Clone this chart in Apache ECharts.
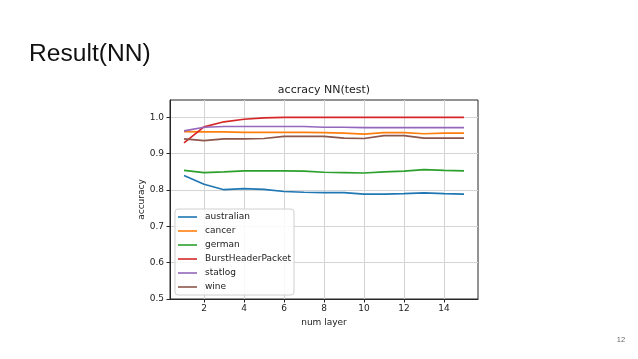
<!DOCTYPE html>
<html>
<head>
<meta charset="utf-8">
<script src="https://cdn.jsdelivr.net/npm/echarts@6/dist/echarts.min.js"></script>
<style>
html,body{margin:0;padding:0;background:#fff;}
#c{width:638px;height:359px;}
</style>
</head>
<body>
<div id="c"></div>
<script>
// ---- data ----
var layers = [1,2,3,4,5,6,7,8,9,10,11,12,13,14,15];
var australian = [0.840,0.816,0.801,0.804,0.802,0.796,0.794,0.793,0.793,0.789,0.789,0.790,0.792,0.790,0.789];
var cancer     = [0.961,0.960,0.960,0.959,0.959,0.959,0.959,0.958,0.957,0.954,0.958,0.958,0.955,0.957,0.957];
var german     = [0.854,0.848,0.850,0.853,0.853,0.853,0.852,0.849,0.848,0.847,0.850,0.852,0.856,0.854,0.853];
var burst      = [0.930,0.974,0.988,0.995,0.999,1.000,1.000,1.000,1.000,1.000,1.000,1.000,1.000,1.000,1.000];
var statlog    = [0.963,0.973,0.975,0.975,0.975,0.975,0.975,0.973,0.973,0.972,0.972,0.972,0.972,0.972,0.972];
var wine       = [0.941,0.936,0.941,0.941,0.942,0.948,0.948,0.948,0.943,0.942,0.950,0.950,0.943,0.943,0.943];
var seriesNames = ['australian','cancer','german','BurstHeaderPacket','statlog','wine'];
var xTicks = [2,4,6,8,10,12,14];
var yTicks = [0.5,0.6,0.7,0.8,0.9,1.0];
var slideTitle = 'Result(NN)';
var chartTitle = 'accracy NN(test)';
var pageNumber = '12';

var colors = ['#1f77b4','#ff7f0e','#2ca02c','#d62728','#9467bd','#8c564b'];
var values = [australian, cancer, german, burst, statlog, wine];

function pairs(arr){ return layers.map(function(x,i){ return [x, arr[i]]; }); }

var chart = echarts.init(document.getElementById('c'), null, {renderer:'canvas'});
var font = 'DejaVu Sans';
chart.setOption({
  backgroundColor: '#fff',
  animation: false,
  color: colors,
  grid: {left:170, top:100, right:160, bottom:60, show:true, borderColor:'#262626', borderWidth:1, backgroundColor:'#fff', containLabel:false},
  graphic: [
    {type:'text', left:null, x:29, y:54, style:{text:slideTitle, font:'24.6px "Liberation Sans", Arial, sans-serif', fill:'#111', verticalAlign:'middle', align:'left'}},
    {type:'text', x:324, y:90, style:{text:chartTitle, font:'11px "DejaVu Sans"', fill:'#222', verticalAlign:'middle', align:'center'}},
    {type:'text', x:621, y:340, style:{text:pageNumber, font:'7.5px "Liberation Sans", Arial, sans-serif', fill:'#666', verticalAlign:'middle', align:'center'}}
  ],
  legend: {
    data: seriesNames,
    orient: 'vertical',
    left: 175, top: 209,
    padding: [2,3,2,3],
    itemGap: 2,
    itemWidth: 19, itemHeight: 1.6,
    icon: 'rect',
    backgroundColor: 'rgba(255,255,255,0.85)',
    borderColor: '#d0d0d0', borderWidth: 1, borderRadius: 3,
    textStyle: {fontFamily:font, fontSize:9, color:'#222', lineHeight:12, padding:[0,0,0,3]}
  },
  xAxis: {
    type:'value', min:0.3, max:15.7,
    name:'num layer', nameLocation:'middle', nameGap:18,
    nameTextStyle:{fontFamily:font, fontSize:9, color:'#222'},
    axisLine:{show:true, onZero:false, lineStyle:{color:'#262626', width:1}},
    axisTick:{show:true, inside:false, length:3.5, customValues:xTicks, lineStyle:{color:'#262626'}},
    axisLabel:{customValues:xTicks, margin:5, fontFamily:font, fontSize:9, color:'#222'},
    splitLine:{show:true, lineStyle:{color:'#d4d4d4', width:1}}
  },
  yAxis: {
    type:'value', min:0.5, max:1.048,
    name:'accuracy', nameLocation:'middle', nameGap:24,
    nameTextStyle:{fontFamily:font, fontSize:9, color:'#222'},
    axisLine:{show:true, onZero:false, lineStyle:{color:'#262626', width:1}},
    axisTick:{show:true, inside:false, length:3.5, customValues:yTicks, lineStyle:{color:'#262626'}},
    axisLabel:{customValues:yTicks, margin:6, fontFamily:font, fontSize:9, color:'#222', formatter:function(v){return v.toFixed(1);}},
    splitLine:{show:true, lineStyle:{color:'#d4d4d4', width:1}}
  },
  series: seriesNames.map(function(n,i){
    return {name:n, type:'line', data:pairs(values[i]), showSymbol:false, symbol:'none',
            lineStyle:{width:1.7, color:colors[i]}, itemStyle:{color:colors[i]}};
  })
});
</script>
</body>
</html>
